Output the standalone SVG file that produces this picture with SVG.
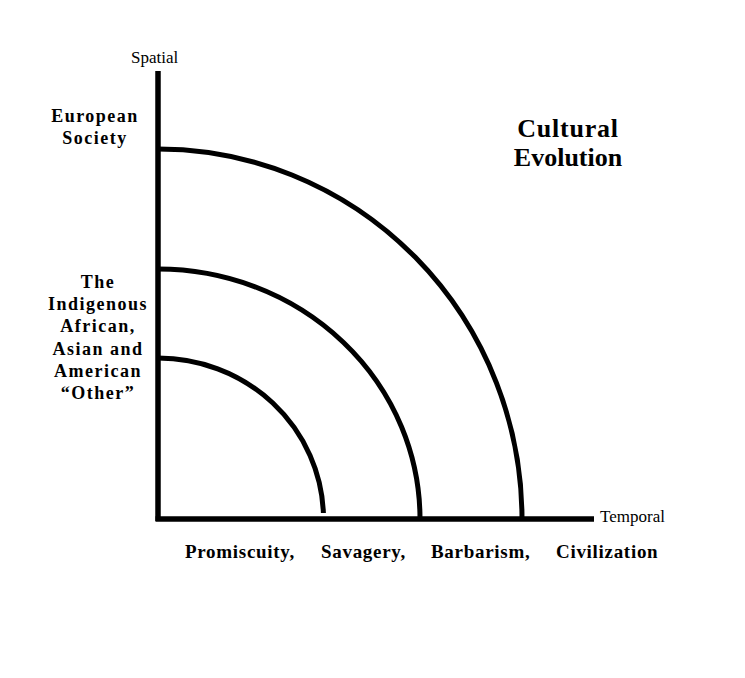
<svg xmlns="http://www.w3.org/2000/svg" width="745" height="678" viewBox="0 0 745 678">
<style>
.axis{stroke:#000;stroke-width:5.5;fill:none}
.arc{stroke:#000;stroke-width:5;fill:none}
.lbl{font-family:"Liberation Serif","Times New Roman",serif;font-size:17px;fill:#000}
.side{font-family:"Liberation Serif","Times New Roman",serif;font-size:18px;font-weight:bold;fill:#000;text-anchor:middle;letter-spacing:1.5px}
.stage{font-family:"Liberation Serif","Times New Roman",serif;font-size:19px;font-weight:bold;fill:#000;letter-spacing:0.7px}
.title{font-family:"Liberation Serif","Times New Roman",serif;font-size:26px;font-weight:bold;fill:#000;text-anchor:middle}
</style>
<rect width="745" height="678" fill="#fff"/>
<g id="connectors">
<path class="axis" d="M158,71 V521"/>
<path class="axis" d="M155.5,519 H594"/>
<path id="arc-outer" class="arc" d="M158,149 A364,370 0 0 1 522,519"/>
<path id="arc-middle" class="arc" d="M158,269 A262,250 0 0 1 420,519"/>
<path id="arc-inner" class="arc" d="M158,358 A165.5,161 0 0 1 323.4,513"/>
</g>
<g id="axis-labels">
<text class="lbl" x="131" y="63">Spatial</text>
<text class="lbl" x="600" y="522">Temporal</text>
</g>
<g id="european">
<text class="side" x="95" y="122">European</text>
<text class="side" x="95" y="144">Society</text>
</g>
<g id="other">
<text class="side" x="98" y="288">The</text>
<text class="side" x="98" y="310">Indigenous</text>
<text class="side" x="98" y="332">African,</text>
<text class="side" x="98" y="355">Asian and</text>
<text class="side" x="98" y="377">American</text>
<text class="side" x="98" y="399">“Other”</text>
</g>
<g id="title">
<text class="title" x="568" y="137" letter-spacing="0.8">Cultural</text>
<text class="title" x="568" y="166">Evolution</text>
</g>
<g id="stages">
<text class="stage" x="185" y="558">Promiscuity,</text>
<text class="stage" x="321" y="558">Savagery,</text>
<text class="stage" x="431" y="558">Barbarism,</text>
<text class="stage" x="556" y="558">Civilization</text>
</g>
</svg>
